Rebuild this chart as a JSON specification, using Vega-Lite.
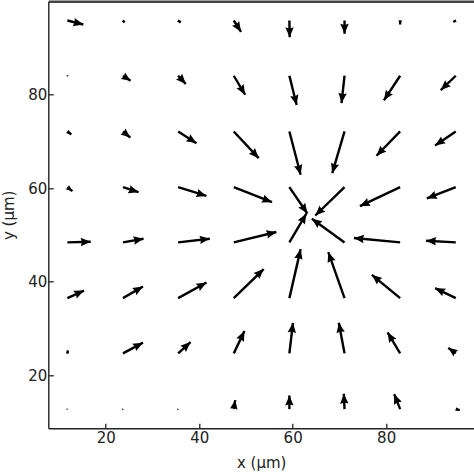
{
  "$schema": "https://vega.github.io/schema/vega-lite/v6.json",
  "autosize": {"type": "none"},
  "padding": {"left": 48.3, "top": 1.3, "right": 0, "bottom": 45.7},
  "width": 425.7,
  "height": 427,
  "background": "white",
  "config": {
    "view": {"stroke": null},
    "font": "DejaVu Sans",
    "axis": {
      "domainColor": "#222",
      "domainWidth": 1.4,
      "tickColor": "#222",
      "tickWidth": 1.3,
      "tickSize": -5,
      "labelColor": "#222",
      "labelFont": "DejaVu Sans",
      "labelFontSize": 15,
      "titleColor": "#222",
      "titleFont": "DejaVu Sans",
      "titleFontSize": 15,
      "titleFontWeight": "normal",
      "grid": false
    }
  },
  "data": {
    "values": [
      {"x": 11.8, "y": 95.8, "u": 3.42, "v": -0.85},
      {"x": 23.7, "y": 95.8, "u": 0.32, "v": -0.43},
      {"x": 35.5, "y": 95.8, "u": 0.53, "v": -0.43},
      {"x": 47.4, "y": 95.8, "u": 1.56, "v": -2.41},
      {"x": 59.3, "y": 95.8, "u": 0.06, "v": -3.57},
      {"x": 71.1, "y": 95.8, "u": 0.0, "v": -2.84},
      {"x": 83.0, "y": 95.8, "u": 0.0, "v": -0.85},
      {"x": 94.9, "y": 95.8, "u": -0.53, "v": -0.32},

      {"x": 11.8, "y": 84.0, "u": 0.1, "v": -0.1},
      {"x": 23.7, "y": 84.0, "u": 1.62, "v": -1.07},
      {"x": 35.5, "y": 84.0, "u": 1.65, "v": -1.77},
      {"x": 47.4, "y": 84.0, "u": 2.44, "v": -4.06},
      {"x": 59.3, "y": 84.0, "u": 1.56, "v": -6.26},
      {"x": 71.1, "y": 84.0, "u": -0.64, "v": -5.83},
      {"x": 83.0, "y": 84.0, "u": -3.48, "v": -5.26},
      {"x": 94.9, "y": 84.0, "u": -3.21, "v": -3.06},

      {"x": 11.8, "y": 72.1, "u": 0.85, "v": -0.64},
      {"x": 23.7, "y": 72.1, "u": 1.56, "v": -1.28},
      {"x": 35.5, "y": 72.1, "u": 3.91, "v": -2.5},
      {"x": 47.4, "y": 72.1, "u": 5.34, "v": -5.7},
      {"x": 59.3, "y": 72.1, "u": 2.41, "v": -9.25},
      {"x": 71.1, "y": 72.1, "u": -2.63, "v": -8.91},
      {"x": 83.0, "y": 72.1, "u": -5.06, "v": -5.19},
      {"x": 94.9, "y": 72.1, "u": -4.42, "v": -2.99},

      {"x": 11.8, "y": 60.2, "u": 1.07, "v": -0.85},
      {"x": 23.7, "y": 60.2, "u": 3.33, "v": -1.07},
      {"x": 35.5, "y": 60.2, "u": 6.05, "v": -1.86},
      {"x": 47.4, "y": 60.2, "u": 8.18, "v": -3.21},
      {"x": 59.3, "y": 60.2, "u": 3.85, "v": -5.62},
      {"x": 71.1, "y": 60.2, "u": -6.26, "v": -6.05},
      {"x": 83.0, "y": 60.2, "u": -8.61, "v": -4.06},
      {"x": 94.9, "y": 60.2, "u": -6.2, "v": -2.41},

      {"x": 11.8, "y": 48.4, "u": 5.0, "v": 0.15},
      {"x": 23.7, "y": 48.4, "u": 4.4, "v": 0.79},
      {"x": 35.5, "y": 48.4, "u": 6.77, "v": 0.79},
      {"x": 47.4, "y": 48.4, "u": 9.12, "v": 2.22},
      {"x": 59.3, "y": 48.4, "u": 3.63, "v": 6.13},
      {"x": 71.1, "y": 48.4, "u": -6.99, "v": 5.06},
      {"x": 83.0, "y": 48.4, "u": -9.89, "v": 0.94},
      {"x": 94.9, "y": 48.4, "u": -6.35, "v": 0.36},

      {"x": 11.8, "y": 36.5, "u": 3.57, "v": 1.62},
      {"x": 23.7, "y": 36.5, "u": 4.27, "v": 2.48},
      {"x": 35.5, "y": 36.5, "u": 6.07, "v": 3.33},
      {"x": 47.4, "y": 36.5, "u": 6.41, "v": 6.2},
      {"x": 59.3, "y": 36.5, "u": 2.41, "v": 10.47},
      {"x": 71.1, "y": 36.5, "u": -3.48, "v": 9.83},
      {"x": 83.0, "y": 36.5, "u": -6.05, "v": 4.98},
      {"x": 94.9, "y": 36.5, "u": -4.42, "v": 2.14},

      {"x": 11.8, "y": 24.7, "u": 0.1, "v": 0.64},
      {"x": 23.7, "y": 24.7, "u": 4.27, "v": 2.29},
      {"x": 35.5, "y": 24.7, "u": 2.65, "v": 2.41},
      {"x": 47.4, "y": 24.7, "u": 2.29, "v": 4.76},
      {"x": 59.3, "y": 24.7, "u": 0.77, "v": 6.54},
      {"x": 71.1, "y": 24.7, "u": -1.22, "v": 6.54},
      {"x": 83.0, "y": 24.7, "u": -2.69, "v": 4.49},
      {"x": 94.9, "y": 24.7, "u": -1.6, "v": 1.18},

      {"x": 11.8, "y": 12.8, "u": 0.05, "v": 0.05},
      {"x": 23.7, "y": 12.8, "u": 0.05, "v": 0.05},
      {"x": 35.5, "y": 12.8, "u": 0.05, "v": 0.05},
      {"x": 47.4, "y": 12.8, "u": 0.32, "v": 1.92},
      {"x": 59.3, "y": 12.8, "u": 0.0, "v": 2.91},
      {"x": 71.1, "y": 12.8, "u": -0.15, "v": 3.27},
      {"x": 83.0, "y": 12.8, "u": -1.28, "v": 3.21},
      {"x": 94.9, "y": 12.8, "u": 0.85, "v": -0.21}
    ]
  },
  "transform": [
    {"calculate": "datum.x + datum.u", "as": "xe"},
    {"calculate": "datum.y + datum.v", "as": "ye"},
    {"calculate": "atan2(datum.u, datum.v) * 180 / PI", "as": "ang"},
    {"calculate": "sqrt(datum.u * datum.u + datum.v * datum.v)", "as": "len"}
  ],
  "layer": [
    {
      "mark": {"type": "rule", "color": "black", "strokeWidth": 2.4, "strokeCap": "butt"},
      "encoding": {
        "x": {
          "field": "x", "type": "quantitative",
          "scale": {"domain": [7.72, 98.8], "nice": false, "zero": false},
          "axis": {"orient": "bottom", "values": [20, 40, 60, 80], "title": "x (μm)", "labelPadding": 7, "titlePadding": 10}
        },
        "y": {
          "field": "y", "type": "quantitative",
          "scale": {"domain": [8.7, 99.9], "nice": false, "zero": false},
          "axis": {"orient": "left", "values": [20, 40, 60, 80], "title": "y (μm)", "labelPadding": 6.5, "titlePadding": 11}
        },
        "x2": {"field": "xe"},
        "y2": {"field": "ye"}
      }
    },
    {
      "mark": {"type": "point", "shape": "M0,0L0.42,1L0,0.88L-0.42,1Z", "filled": true, "color": "black", "opacity": 1, "strokeWidth": 0},
      "encoding": {
        "x": {
          "field": "xe", "type": "quantitative",
          "axis": {"orient": "top", "labels": false, "ticks": false, "title": null, "domainWidth": 2.6, "domainColor": "#444"}
        },
        "y": {"field": "ye", "type": "quantitative", "axis": null},
        "angle": {"field": "ang", "type": "quantitative", "scale": null},
        "size": {
          "field": "len", "type": "quantitative",
          "scale": {"type": "pow", "exponent": 2, "domain": [0, 2.14], "range": [8, 400], "clamp": true},
          "legend": null
        }
      }
    }
  ],
  "resolve": {"axis": {"x": "independent", "y": "independent"}}
}
